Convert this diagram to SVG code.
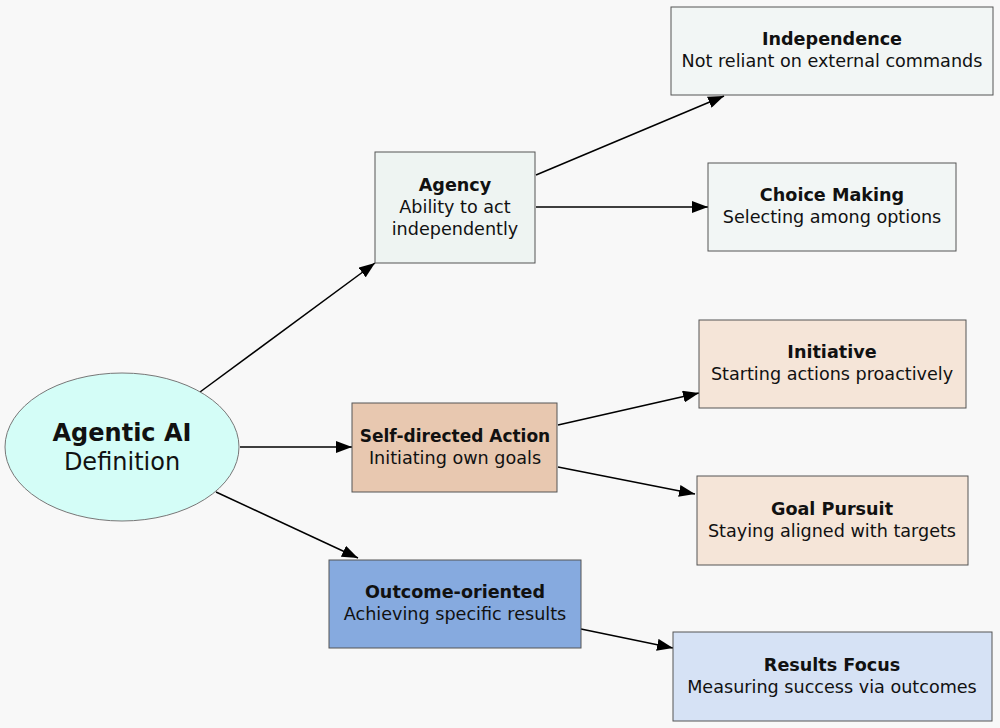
<svg xmlns="http://www.w3.org/2000/svg" width="1000" height="728" viewBox="0 0 1000 728">
<defs>
<marker id="ah" markerWidth="16" markerHeight="12" refX="16" refY="6" orient="auto" markerUnits="userSpaceOnUse" viewBox="0 0 16 12"><path d="M0,0 L16,6 L0,12 z" fill="#000"/></marker>
<style>
.n rect{stroke:#555;stroke-width:1}
text{font-family:"DejaVu Sans",sans-serif;font-size:17.6px;text-anchor:middle;fill:#111}
.b{font-weight:bold}
.c line{stroke:#000;stroke-width:1.5;marker-end:url(#ah)}
</style>
</defs>
<rect x="0" y="0" width="1000" height="728" fill="#f8f8f8"/>
<g class="c">
<line x1="200" y1="392" x2="375" y2="263"/>
<line x1="240" y1="447" x2="352" y2="447"/>
<line x1="216" y1="492" x2="358" y2="558"/>
<line x1="536" y1="175" x2="724" y2="96"/>
<line x1="536" y1="207" x2="708" y2="207"/>
<line x1="558" y1="425" x2="699" y2="393"/>
<line x1="558" y1="467" x2="695" y2="494"/>
<line x1="581" y1="629" x2="673" y2="648"/>
</g>
<g id="root" class="n"><ellipse cx="122" cy="447" rx="117" ry="74" fill="#d4fdf7" stroke="#777"/>
<text x="122" y="441" class="b" style="font-size:24px">Agentic AI</text><text x="122" y="470" style="font-size:24px">Definition</text></g>
<g id="agency" class="n"><rect x="375" y="152" width="160" height="111" fill="#eef4f2"/>
<text x="455" y="191" class="b">Agency</text><text x="455" y="213">Ability to act</text><text x="455" y="235">independently</text></g>
<g id="independence" class="n"><rect x="671" y="7" width="322" height="88" fill="#f2f6f5"/>
<text x="832" y="45" class="b">Independence</text><text x="832" y="67">Not reliant on external commands</text></g>
<g id="choice" class="n"><rect x="708" y="163" width="248" height="88" fill="#f2f6f5"/>
<text x="832" y="201" class="b">Choice Making</text><text x="832" y="223">Selecting among options</text></g>
<g id="self" class="n"><rect x="352" y="403" width="205" height="89" fill="#e8c8b0"/>
<text x="455" y="442" class="b" style="font-size:17px">Self-directed Action</text><text x="455" y="464">Initiating own goals</text></g>
<g id="initiative" class="n"><rect x="699" y="320" width="267" height="88" fill="#f5e5d8"/>
<text x="832" y="358" class="b">Initiative</text><text x="832" y="380">Starting actions proactively</text></g>
<g id="goal" class="n"><rect x="697" y="476" width="271" height="89" fill="#f5e5d8"/>
<text x="832" y="515" class="b">Goal Pursuit</text><text x="832" y="537">Staying aligned with targets</text></g>
<g id="outcome" class="n"><rect x="329" y="560" width="252" height="88" fill="#86aadf"/>
<text x="455" y="598" class="b">Outcome-oriented</text><text x="455" y="620">Achieving specific results</text></g>
<g id="results" class="n"><rect x="673" y="632" width="319" height="89" fill="#d6e2f5"/>
<text x="832" y="671" class="b">Results Focus</text><text x="832" y="693">Measuring success via outcomes</text></g>
</svg>
